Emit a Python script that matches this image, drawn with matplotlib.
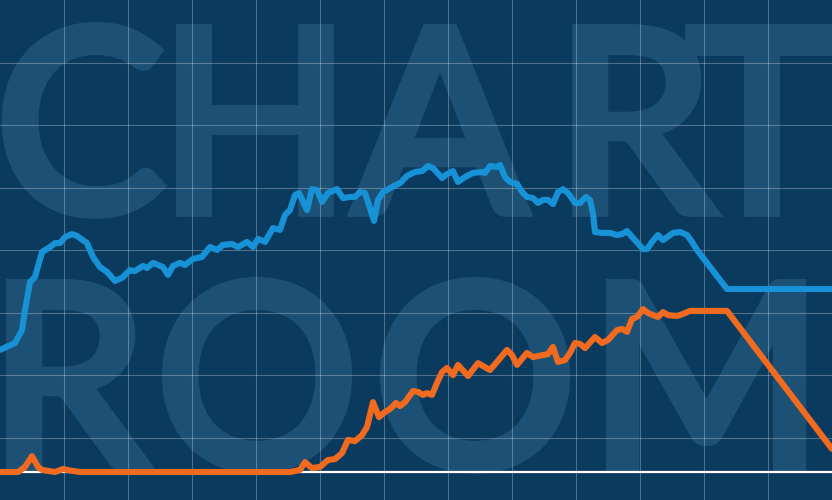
"""
Chart Room cover graphic: two weekly series over a lettered grid
"""

from matplotlib import pyplot as plt
from matplotlib import patheffects as pe

# weeks since start / index values for the blue series
BLUE_WEEKS = [
    0, 3.75, 5.5, 6.25, 7.5, 8.75, 10.5, 12.5, 13.75, 15, 16.25, 18, 19.25, 21.75,
    23.25, 25, 26.75, 28.75, 30.5, 32.5, 33.75, 35.75, 36.75, 38.25, 40.75, 42,
    43.25, 45, 46.25, 48.25, 50.5, 52.5, 54.25, 55.75, 58, 59.5, 61.75, 63.25,
    64.5, 66.25, 68.25, 70, 71.25, 72.5, 73.75, 74.75, 76.75, 78, 79.25, 80.5,
    82, 84.25, 85.75, 87.5, 88.75, 90, 91.25, 92.5, 93.5, 94.5, 95.75, 98, 100,
    101.75, 103.75, 105.5, 107, 108.25, 110.5, 111.75, 113.25, 114.5, 116.25,
    118.25, 120.5, 121.25, 122.5, 124.25, 125, 126.25, 127.5, 129.25, 130.75,
    131.75, 133.25, 134.5, 135.75, 137, 138.25, 139.5, 140.75, 142, 143.75, 145,
    146.5, 147.5, 148.25, 148.75, 150.5, 152.5, 154.25, 155.5, 156.75, 158.75,
    160.75, 161.75, 163, 164.5, 165.75, 168.25, 170, 171.75, 173, 174.25, 181.75,
    208,
]
BLUE_VALUES = [
    40.7, 43, 47.3, 54, 63.3, 65, 73.3, 75, 76.3, 76.3, 78.3, 79.3, 78.7, 76.3,
    71.7, 68.3, 66.7, 63.7, 64.7, 67.3, 67, 68.7, 68, 69.7, 68.3, 65.7, 68.7,
    69.7, 69, 71, 71.7, 75, 74, 75.7, 76, 75, 76.7, 75, 77.7, 76.7, 81.3, 80.7,
    85.7, 87.3, 92.3, 93, 87.3, 94.3, 94, 90, 93, 94.3, 91.3, 91.7, 91.7, 93.3,
    93, 88, 83.7, 90.7, 93.3, 95, 96.3, 98.7, 100, 100.3, 102, 101.3, 98, 99.3,
    100.3, 96.7, 98.3, 99.7, 100, 99.7, 102, 101.7, 102.3, 98.3, 96.7, 96, 93,
    91.7, 91.3, 89.7, 90.7, 90.7, 89.3, 93.3, 94.3, 93, 89.7, 89.7, 91.7, 90.7,
    86.3, 80, 79.7, 79.7, 79, 79.3, 80.3, 77.3, 74.3, 74.3, 76.7, 79, 77.3, 79.7,
    80, 79, 76.7, 74, 61, 61,
]

# weeks since start / index values for the orange series
ORANGE_WEEKS = [
    0, 4.5, 6.25, 8, 9.5, 10.5, 13.75, 15.75, 17.5, 20, 72.5, 75, 76.25, 78, 80,
    82, 83.75, 85.5, 87, 88.75, 90.5, 91.75, 93.25, 94.75, 96.25, 97.5, 99, 100,
    101.25, 103.25, 104.5, 105.75, 106.75, 108, 109.25, 110.5, 111.75, 113.25,
    114.5, 117, 119.5, 122.5, 124.25, 126.75, 128, 129.25, 131.75, 133.25,
    135.75, 137, 138.25, 139.5, 141.25, 142.5, 143.75, 145, 146.25, 148.75,
    150.5, 152, 154.25, 155.5, 156.75, 158, 159.25, 160.75, 162, 163.25, 164.5,
    165.75, 167, 169.25, 170.75, 172.5, 181.75, 208,
]
ORANGE_VALUES = [
    0, 0, 1.7, 5.3, 1.7, 0.7, 0, 1, 0.5, 0, 0, 0.7, 3.3, 1.3, 1.7, 4, 4.3, 6.3,
    10.7, 10.3, 12.3, 15, 23.3, 18.3, 20, 21, 23, 22, 23.3, 27, 26.7, 25.7, 26.3,
    25.7, 29.7, 33.3, 34.7, 32.3, 35.7, 32, 36.3, 34, 36.7, 40.7, 39, 35.7, 39.7,
    38.3, 39, 39.3, 41.7, 36.7, 37.3, 39.7, 43, 42.7, 41.3, 45, 43, 44, 47.3,
    47.7, 46.7, 51, 51.7, 54.3, 53, 52.3, 51.7, 53.3, 52.3, 52, 52.7, 53.7, 53.7,
    7.7,
]

WORD_ROWS = [
    # letter, centre x, baseline y (in 832x500 layout units)
    [('C', 80, 211), ('H', 255, 211), ('A', 440, 211), ('R', 634, 211), ('T', 762, 211)],
    [('R', 68, 466), ('O', 257, 466), ('O', 475, 466), ('M', 706, 466)],
]

BG = '#0a3a5e'
LETTER = '#1c5074'
BLUE = '#1792d6'
ORANGE = '#f06a1f'


def main():
    fig = plt.figure(figsize=(8.32, 5.0), dpi=100)
    fig.patch.set_facecolor(BG)

    # background layer: big letters and grid, laid out on an 832x500 canvas
    bg = fig.add_axes([0, 0, 1, 1])
    bg.set_xlim(0, 832)
    bg.set_ylim(500, 0)
    bg.set_facecolor(BG)
    bg.axis('off')
    # the installed Lato is light, so fatten the glyphs with a matching outline
    thicken = [pe.withStroke(linewidth=8.5, foreground=LETTER, joinstyle='miter')]
    for row in WORD_ROWS:
        for ch, cx, by in row:
            bg.text(cx, by, ch, ha='center', va='baseline', fontsize=182,
                    family='Lato', color=LETTER, zorder=1, path_effects=thicken)
    for k in range(1, 13):
        bg.axvline(64 * k, color='white', alpha=0.28, lw=0.8, zorder=2)
    for k in range(1, 8):
        bg.axhline(62.5 * k, color='white', alpha=0.28, lw=0.8, zorder=2)

    # data layer
    ax = fig.add_axes([0, 0, 1, 1])
    ax.patch.set_alpha(0)
    ax.set_xlim(0, 208)
    ax.set_ylim(-9.33, 157.33)
    ax.axis('off')
    ax.axhline(0, color='white', lw=1.6, zorder=3)
    ax.plot(BLUE_WEEKS, BLUE_VALUES, color=BLUE, lw=4.4,
            solid_joinstyle='round', solid_capstyle='round', zorder=4)
    ax.plot(ORANGE_WEEKS, ORANGE_VALUES, color=ORANGE, lw=4.4,
            solid_joinstyle='round', solid_capstyle='round', zorder=5)

    fig.savefig('out.png', dpi=100, facecolor=BG)


if __name__ == '__main__':
    main()
